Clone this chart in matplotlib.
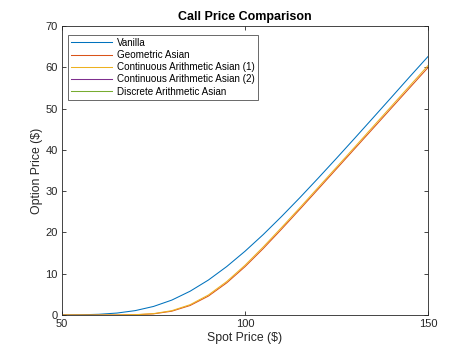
import numpy as np
import matplotlib
matplotlib.use("Agg")
import matplotlib.pyplot as plt

plt.rcParams['font.family'] = ['Liberation Sans', 'DejaVu Sans']

spot = [50, 55, 60, 65, 70, 75, 80, 85, 90, 95, 100, 105, 110, 115, 120, 125, 130, 135, 140, 145, 150]

vanilla = [0.0, 0.05, 0.17, 0.47, 1.06, 2.07, 3.61, 5.76, 8.47, 11.73, 15.44, 19.50, 23.87,
           28.43, 33.15, 37.96, 42.84, 47.77, 52.72, 57.70, 62.60]
geometric_asian = [0.0, 0.0, 0.0, 0.0, 0.06, 0.28, 0.92, 2.30, 4.58, 7.78, 11.70, 16.11, 20.81,
                   25.62, 30.50, 35.40, 40.31, 45.21, 50.12, 55.03, 59.93]
cont_arith_asian_1 = [0.0, 0.0, 0.0, 0.0, 0.08, 0.33, 1.05, 2.50, 4.85, 8.10, 12.05, 16.50, 21.20,
                      26.00, 30.90, 35.80, 40.70, 45.65, 50.57, 55.50, 60.42]
cont_arith_asian_2 = [np.nan] * len(spot)
discrete_arith_asian = [np.nan] * len(spot)

series_names = ["Vanilla", "Geometric Asian", "Continuous Arithmetic Asian (1)",
                "Continuous Arithmetic Asian (2)", "Discrete Arithmetic Asian"]
series = [vanilla, geometric_asian, cont_arith_asian_1, cont_arith_asian_2, discrete_arith_asian]
colors = ["#0072BD", "#D95319", "#EDB120", "#7E2F8E", "#77AC30"]

x_ticks = [50, 100, 150]
y_ticks = [0, 10, 20, 30, 40, 50, 60, 70]

fig = plt.figure(figsize=(4.74, 3.55), dpi=100)
ax = fig.add_axes([62/474, 40/355, 366/474, 289/355])

for name, vals, c in zip(series_names, series, colors):
    ax.plot(spot, vals, color=c, lw=0.75, label=name)

ax.set_xlim(50, 150)
ax.set_ylim(0, 70)
ax.set_xticks(x_ticks)
ax.set_yticks(y_ticks)
ax.tick_params(direction='in', length=3, width=0.6, top=True, right=True,
               labelsize=8, colors='#262626', pad=3)
for s in ax.spines.values():
    s.set_color('#262626')
    s.set_linewidth(0.6)

ax.set_title("Call Price Comparison", fontsize=9, fontweight='bold', color='black', pad=4)
ax.set_xlabel("Spot Price ($)", fontsize=8.8, color='#262626', labelpad=2)
ax.set_ylabel("Option Price ($)", fontsize=8.8, color='#262626', labelpad=2)

leg = ax.legend(loc='upper left', bbox_to_anchor=(0.016, 0.969), borderaxespad=0,
                fontsize=7.1, frameon=True, fancybox=False, handlelength=4.2,
                handletextpad=0.5, labelspacing=0.22, borderpad=0.3)
leg.get_frame().set_edgecolor('#262626')
leg.get_frame().set_linewidth(0.6)

fig.savefig("out.png", dpi=100, facecolor='white')
